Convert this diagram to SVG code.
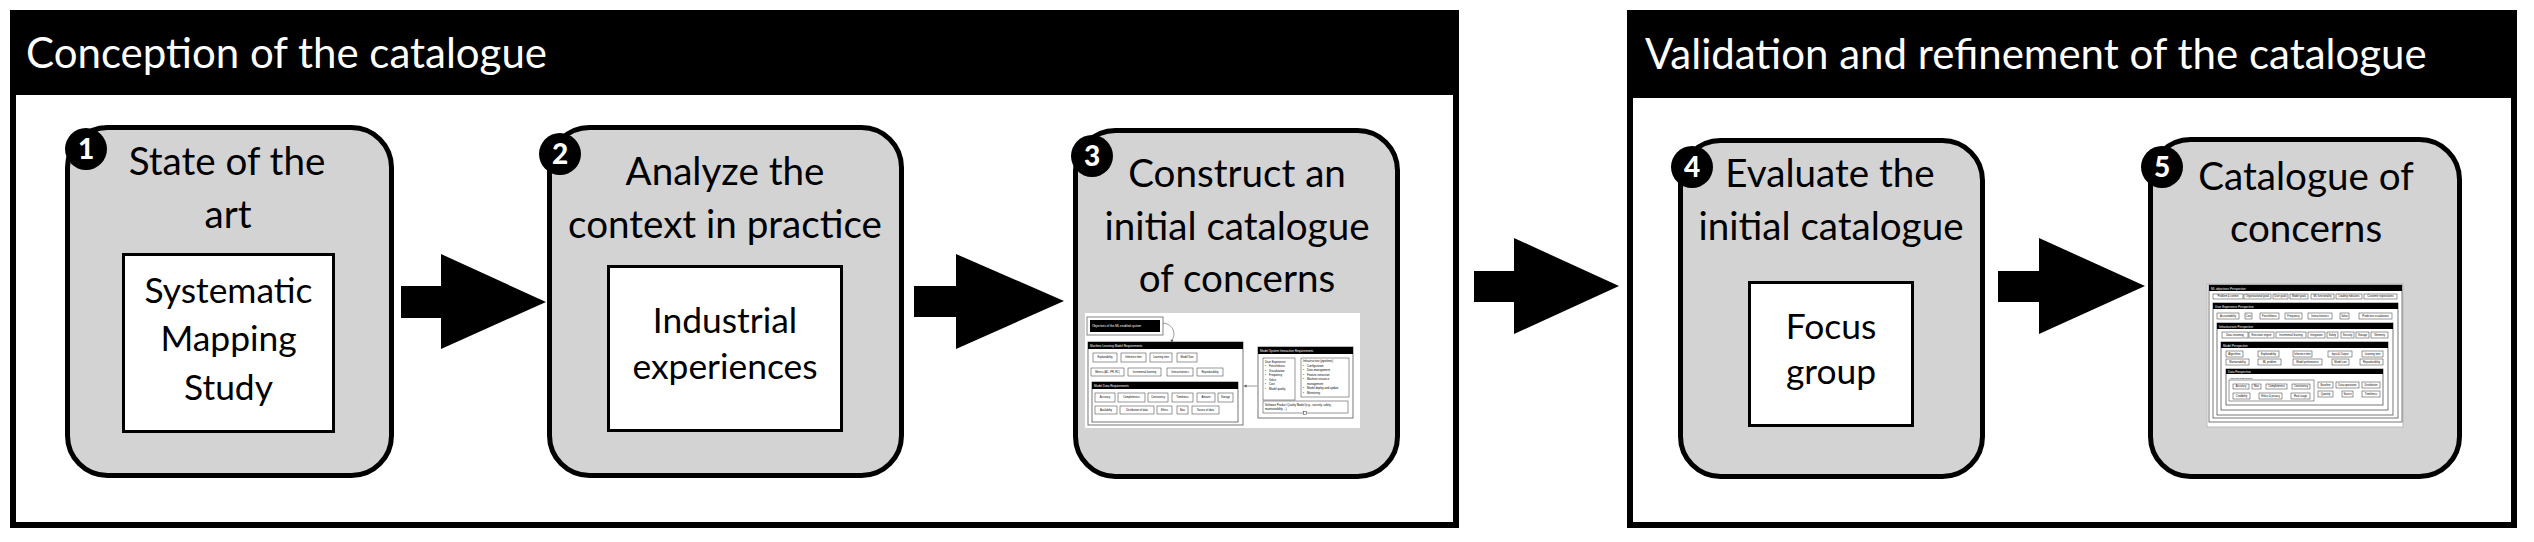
<svg xmlns="http://www.w3.org/2000/svg" width="2534" height="542" viewBox="0 0 2534 542">
<defs>
<style>
.panel{fill:#fff;stroke:#000;stroke-width:6}
.hdr{fill:#000}
.htitle{font-family:Lato,"Open Sans",sans-serif;font-size:42px;fill:#fff}
.step{fill:#d3d3d3;stroke:#000;stroke-width:5}
.inner{fill:#fff;stroke:#000;stroke-width:3}
.t{font-family:Lato,"Open Sans",sans-serif;font-size:38.6px;fill:#000;text-anchor:middle}
.ti{font-family:Lato,"Open Sans",sans-serif;font-size:35.4px;fill:#000;text-anchor:middle}
.badge{fill:#000}
.bnum{font-family:Lato,"DejaVu Sans",sans-serif;font-weight:900;font-size:28px;fill:#fff;text-anchor:middle}
.arrow{fill:#000}
.mp{fill:none;stroke:#555;stroke-width:0.8}
.mh{fill:#000}
.mht{font-family:"Liberation Sans",Arial,sans-serif;font-size:3px;fill:#fff}
.it{fill:#fff;stroke:#333;stroke-width:0.5}
.itx{font-family:"Liberation Sans",Arial,sans-serif;font-size:2.6px;fill:#000;text-anchor:middle}
.lt{font-family:"Liberation Sans",Arial,sans-serif;font-size:2.8px;fill:#000}
</style>
</defs>

<g id="panel-conception">
<rect class="panel" x="13" y="13" width="1443" height="512"/>
<rect class="hdr" x="10" y="10" width="1449" height="85"/>
<text class="htitle" x="26" y="68">Conception of the catalogue</text>
</g>

<g id="panel-validation">
<rect class="panel" x="1630" y="13" width="884" height="512"/>
<rect class="hdr" x="1627" y="10" width="890" height="88"/>
<text class="htitle" x="1645" y="69">Validation and refinement of the catalogue</text>
</g>

<g id="connectors">
<polygon class="arrow" points="401,286 441,286 441,254 546,302 441,349 441,318 401,318"/>
<polygon class="arrow" points="914,286 956,286 956,254 1064,301 956,349 956,317 914,317"/>
<polygon class="arrow" points="1474,271 1514,271 1514,238 1619,286 1514,334 1514,302 1474,302"/>
<polygon class="arrow" points="1998,271 2039,271 2039,238 2145,286 2039,334 2039,302 1998,302"/>
</g>

<g id="step1">
<rect class="step" x="67.5" y="127.5" width="324" height="348" rx="40"/>
<circle class="badge" cx="86" cy="149" r="21"/>
<text class="bnum" x="86" y="159">1</text>
<text class="t" x="227" y="175">State of the</text>
<text class="t" x="228" y="228">art</text>
<rect class="inner" x="123.5" y="254.5" width="210" height="177"/>
<text class="ti" x="228.5" y="303">Systematic</text>
<text class="ti" x="228.5" y="351">Mapping</text>
<text class="ti" x="228.5" y="400">Study</text>
</g>

<g id="step2">
<rect class="step" x="549.5" y="127.5" width="352" height="348" rx="40"/>
<circle class="badge" cx="560" cy="154" r="21"/>
<text class="bnum" x="560" y="164">2</text>
<text class="t" x="725" y="185">Analyze the</text>
<text class="t" x="725" y="238">context in practice</text>
<rect class="inner" x="608.5" y="266.5" width="233" height="164"/>
<text class="ti" x="725" y="333">Industrial</text>
<text class="ti" x="725" y="379">experiences</text>
</g>

<g id="step3">
<rect class="step" x="1075.5" y="130.5" width="322" height="346" rx="40"/>
<circle class="badge" cx="1092" cy="156" r="21"/>
<text class="bnum" x="1092" y="166">3</text>
<text class="t" x="1237" y="187">Construct an</text>
<text class="t" x="1237" y="240">initial catalogue</text>
<text class="t" x="1237" y="292">of concerns</text>
<g id="step3-catalogue">
<rect x="1085" y="313" width="275" height="115" fill="#fff"/>
<rect x="1087" y="317" width="76" height="18" fill="#fff" stroke="#666" stroke-width="0.8"/>
<rect class="mh" x="1090" y="320" width="70" height="12"/>
<text class="mht" x="1092" y="327.3">Objectives of the ML enabled system</text>
<path d="M1163,323 C1174,324 1176,335 1172,340" fill="none" stroke="#555" stroke-width="0.6"/>
<polygon points="1170.5,339.5 1173.5,340.3 1171.6,342.5" fill="#555"/>
<rect class="mp" x="1088" y="342" width="155" height="83"/>
<rect class="mh" x="1088" y="342" width="155" height="7"/>
<text class="mht" x="1090" y="347">Machine Learning Model Requirements</text>
<rect class="it" x="1093" y="353" width="24" height="9"/><text class="itx" x="1105" y="358.4">Explainability</text>
<rect class="it" x="1121" y="353" width="25" height="9"/><text class="itx" x="1133.5" y="358.4">Inference time</text>
<rect class="it" x="1150" y="353" width="22" height="9"/><text class="itx" x="1161" y="358.4">Learning time</text>
<rect class="it" x="1177" y="353" width="20" height="9"/><text class="itx" x="1187" y="358.4">Model Size</text>
<rect class="it" x="1091" y="368" width="33" height="8"/><text class="itx" x="1107.5" y="372.9">Metrics (AC, PR, RC)</text>
<rect class="it" x="1128" y="368" width="33" height="8"/><text class="itx" x="1144.5" y="372.9">Incremental learning</text>
<rect class="it" x="1167" y="368" width="26" height="8"/><text class="itx" x="1180" y="372.9">Interactiveness</text>
<rect class="it" x="1197" y="368" width="26" height="8"/><text class="itx" x="1210" y="372.9">Reproducibility</text>
<rect class="mp" x="1092" y="382" width="146" height="40"/>
<rect class="mh" x="1092" y="382" width="146" height="7"/>
<text class="mht" x="1094" y="387">Model Data Requirements</text>
<rect class="it" x="1095" y="393" width="20" height="9"/><text class="itx" x="1105" y="398.4">Accuracy</text>
<rect class="it" x="1118" y="393" width="27" height="9"/><text class="itx" x="1131.5" y="398.4">Completeness</text>
<rect class="it" x="1148" y="393" width="20" height="9"/><text class="itx" x="1158" y="398.4">Consistency</text>
<rect class="it" x="1172" y="393" width="21" height="9"/><text class="itx" x="1182.5" y="398.4">Timeliness</text>
<rect class="it" x="1197" y="393" width="18" height="9"/><text class="itx" x="1206" y="398.4">Amount</text>
<rect class="it" x="1218" y="393" width="15" height="9"/><text class="itx" x="1225.5" y="398.4">Storage</text>
<rect class="it" x="1095" y="406" width="22" height="8"/><text class="itx" x="1106" y="410.9">Availability</text>
<rect class="it" x="1120" y="406" width="34" height="8"/><text class="itx" x="1137" y="410.9">Distribution of data</text>
<rect class="it" x="1157" y="406" width="15" height="8"/><text class="itx" x="1164.5" y="410.9">Ethics</text>
<rect class="it" x="1177" y="406" width="11" height="8"/><text class="itx" x="1182.5" y="410.9">Bias</text>
<rect class="it" x="1192" y="406" width="27" height="8"/><text class="itx" x="1205.5" y="410.9">Source of data</text>
<line x1="1257" y1="386" x2="1246" y2="386" stroke="#555" stroke-width="0.6"/>
<polygon points="1243.5,386 1246.5,384.6 1246.5,387.4" fill="#555"/>
<rect class="mp" x="1258" y="347" width="95" height="71"/>
<rect class="mh" x="1258" y="347" width="95" height="7"/>
<text class="mht" x="1260" y="352">Model System Interaction Requirements</text>
<rect class="it" x="1263" y="358" width="32" height="42"/>
<text class="lt" x="1265" y="362.5">User Experience</text>
<text class="lt" x="1265" y="367">•</text><text class="lt" x="1269" y="367">Forcefulness</text>
<text class="lt" x="1265" y="371.5">•</text><text class="lt" x="1269" y="371.5">Visualization</text>
<text class="lt" x="1265" y="376">•</text><text class="lt" x="1269" y="376">Frequency</text>
<text class="lt" x="1265" y="380.5">•</text><text class="lt" x="1269" y="380.5">Value</text>
<text class="lt" x="1265" y="385">•</text><text class="lt" x="1269" y="385">Cost</text>
<text class="lt" x="1265" y="389.5">•</text><text class="lt" x="1269" y="389.5">Model quality</text>
<rect class="it" x="1301" y="358" width="48" height="39"/>
<text class="lt" x="1303" y="362">Infrastructure (pipelines)</text>
<text class="lt" x="1303" y="366.5">•</text><text class="lt" x="1307" y="366.5">Configuration</text>
<text class="lt" x="1303" y="371">•</text><text class="lt" x="1307" y="371">Data management</text>
<text class="lt" x="1303" y="375.5">•</text><text class="lt" x="1307" y="375.5">Feature extraction</text>
<text class="lt" x="1303" y="380">•</text><text class="lt" x="1307" y="380">Machine resource</text>
<text class="lt" x="1307" y="384.5">management</text>
<text class="lt" x="1303" y="389">•</text><text class="lt" x="1307" y="389">Model deploy and update</text>
<text class="lt" x="1303" y="393.5">•</text><text class="lt" x="1307" y="393.5">Monitoring</text>
<rect class="it" x="1263" y="401" width="85" height="12"/>
<text class="lt" x="1265" y="405.5">Software Product Quality Model (e.g., security, safety,</text>
<text class="lt" x="1265" y="409.8">maintainability ...)</text>
<rect x="1303.5" y="411.5" width="3" height="3" fill="#fff" stroke="#333" stroke-width="0.5"/>
</g>
</g>

<g id="step4">
<rect class="step" x="1680.5" y="140.5" width="302" height="336" rx="40"/>
<circle class="badge" cx="1692" cy="167" r="21"/>
<text class="bnum" x="1692" y="177">4</text>
<text class="t" x="1830" y="187">Evaluate the</text>
<text class="t" x="1831" y="240">initial catalogue</text>
<rect class="inner" x="1749.5" y="282.5" width="163" height="143"/>
<text class="ti" x="1831" y="339">Focus</text>
<text class="ti" x="1831" y="384">group</text>
</g>

<g id="step5">
<rect class="step" x="2150.5" y="139.5" width="309" height="337" rx="40"/>
<circle class="badge" cx="2162" cy="167" r="21"/>
<text class="bnum" x="2162" y="177">5</text>
<text class="t" x="2306" y="190">Catalogue of</text>
<text class="t" x="2306" y="242">concerns</text>
<g id="step5-catalogue">
<rect x="2207" y="284" width="196" height="143" fill="#fff" stroke="#bbb" stroke-width="1"/>
<rect class="mp" x="2209" y="285" width="193" height="137"/>
<rect class="mh" x="2209" y="285" width="193" height="6"/>
<text class="mht" x="2211" y="289.6">ML objectives Perspective</text>
<rect class="it" x="2213" y="294" width="30" height="5"/><text class="itx" x="2228" y="297.4">Problem &amp; context</text>
<rect class="it" x="2244" y="294" width="27" height="5"/><text class="itx" x="2257.5" y="297.4">Organizational goals</text>
<rect class="it" x="2273" y="294" width="15" height="5"/><text class="itx" x="2280.5" y="297.4">User goals</text>
<rect class="it" x="2290" y="294" width="18" height="5"/><text class="itx" x="2299" y="297.4">Model goals</text>
<rect class="it" x="2311" y="294" width="23" height="5"/><text class="itx" x="2322.5" y="297.4">ML functionality</text>
<rect class="it" x="2336" y="294" width="26" height="5"/><text class="itx" x="2349" y="297.4">Leading indicators</text>
<rect class="it" x="2364" y="294" width="33" height="5"/><text class="itx" x="2380.5" y="297.4">Customer expectations</text>
<rect class="mp" x="2213" y="303" width="185" height="115"/>
<rect class="mh" x="2213" y="303" width="185" height="6"/>
<text class="mht" x="2215" y="307.6">User Experience Perspective</text>
<rect class="it" x="2217" y="313" width="22" height="6"/><text class="itx" x="2228" y="316.9">Accountability</text>
<rect class="it" x="2245" y="313" width="7" height="6"/><text class="itx" x="2248.5" y="316.9">Cost</text>
<rect class="it" x="2260" y="313" width="19" height="6"/><text class="itx" x="2269.5" y="316.9">Forcefulness</text>
<rect class="it" x="2285" y="313" width="17" height="6"/><text class="itx" x="2293.5" y="316.9">Frequency</text>
<rect class="it" x="2308" y="313" width="24" height="6"/><text class="itx" x="2320" y="316.9">Interactiveness</text>
<rect class="it" x="2340" y="313" width="9" height="6"/><text class="itx" x="2344.5" y="316.9">Value</text>
<rect class="it" x="2359" y="313" width="33" height="6"/><text class="itx" x="2375.5" y="316.9">Prediction visualization</text>
<rect class="mp" x="2217" y="323" width="176" height="92"/>
<rect class="mh" x="2217" y="323" width="176" height="6"/>
<text class="mht" x="2219" y="327.6">Infrastructure Perspective</text>
<rect class="it" x="2222" y="332" width="26" height="6"/><text class="itx" x="2235" y="335.9">Data streaming</text>
<rect class="it" x="2249" y="332" width="25" height="6"/><text class="itx" x="2261.5" y="335.9">Execution engine</text>
<rect class="it" x="2276" y="332" width="30" height="6"/><text class="itx" x="2291" y="335.9">Incremental learning</text>
<rect class="it" x="2308" y="332" width="17" height="6"/><text class="itx" x="2316.5" y="335.9">Integration</text>
<rect class="it" x="2327" y="332" width="11" height="6"/><text class="itx" x="2332.5" y="335.9">Safety</text>
<rect class="it" x="2341" y="332" width="13" height="6"/><text class="itx" x="2347.5" y="335.9">Security</text>
<rect class="it" x="2356" y="332" width="13" height="6"/><text class="itx" x="2362.5" y="335.9">Storage</text>
<rect class="it" x="2371" y="332" width="17" height="6"/><text class="itx" x="2379.5" y="335.9">Telemetry</text>
<rect class="mp" x="2221" y="342" width="167" height="68"/>
<rect class="mh" x="2221" y="342" width="167" height="6"/>
<text class="mht" x="2223" y="346.6">Model Perspective</text>
<rect class="it" x="2226" y="351" width="17" height="6"/><text class="itx" x="2234.5" y="354.9">Algorithms</text>
<rect class="it" x="2258" y="351" width="21" height="6"/><text class="itx" x="2268.5" y="354.9">Explainability</text>
<rect class="it" x="2293" y="351" width="19" height="6"/><text class="itx" x="2302.5" y="354.9">Inference time</text>
<rect class="it" x="2328" y="351" width="24" height="6"/><text class="itx" x="2340" y="354.9">Input &amp; Output</text>
<rect class="it" x="2362" y="351" width="21" height="6"/><text class="itx" x="2372.5" y="354.9">Learning time</text>
<rect class="it" x="2226" y="359" width="23" height="6"/><text class="itx" x="2237.5" y="362.9">Maintainability</text>
<rect class="it" x="2258" y="359" width="23" height="6"/><text class="itx" x="2269.5" y="362.9">ML problem</text>
<rect class="it" x="2293" y="359" width="29" height="6"/><text class="itx" x="2307.5" y="362.9">Model performance</text>
<rect class="it" x="2332" y="359" width="17" height="6"/><text class="itx" x="2340.5" y="362.9">Model size</text>
<rect class="it" x="2360" y="359" width="23" height="6"/><text class="itx" x="2371.5" y="362.9">Reproducibility</text>
<rect class="mp" x="2226" y="369" width="157" height="36"/>
<rect class="mh" x="2226" y="369" width="157" height="5"/>
<text class="mht" x="2228" y="373.2">Data Perspective</text>
<text class="lt" x="2230" y="378.5" style="font-size:2.5px">Inherent data quality</text>
<rect class="it" x="2229" y="380" width="85" height="21"/>
<rect class="it" x="2233" y="384" width="16" height="5"/><text class="itx" x="2241" y="387.4">Accuracy</text>
<rect class="it" x="2252" y="384" width="9" height="5"/><text class="itx" x="2256.5" y="387.4">Bias</text>
<rect class="it" x="2266" y="384" width="21" height="5"/><text class="itx" x="2276.5" y="387.4">Completeness</text>
<rect class="it" x="2292" y="384" width="18" height="5"/><text class="itx" x="2301" y="387.4">Consistency</text>
<rect class="it" x="2233" y="393" width="17" height="6"/><text class="itx" x="2241.5" y="396.9">Credibility</text>
<rect class="it" x="2259" y="393" width="23" height="6"/><text class="itx" x="2270.5" y="396.9">Ethics &amp; privacy</text>
<rect class="it" x="2291" y="393" width="19" height="6"/><text class="itx" x="2300.5" y="396.9">Real usage</text>
<rect class="it" x="2318" y="382" width="15" height="6"/><text class="itx" x="2325.5" y="385.9">Baseline</text>
<rect class="it" x="2336" y="382" width="23" height="6"/><text class="itx" x="2347.5" y="385.9">Data operations</text>
<rect class="it" x="2362" y="382" width="18" height="6"/><text class="itx" x="2371" y="385.9">Distribution</text>
<rect class="it" x="2318" y="391" width="15" height="6"/><text class="itx" x="2325.5" y="394.9">Quantity</text>
<rect class="it" x="2342" y="391" width="11" height="6"/><text class="itx" x="2347.5" y="394.9">Source</text>
<rect class="it" x="2362" y="391" width="18" height="6"/><text class="itx" x="2371" y="394.9">Timeliness</text>
</g>
</g>
</svg>
